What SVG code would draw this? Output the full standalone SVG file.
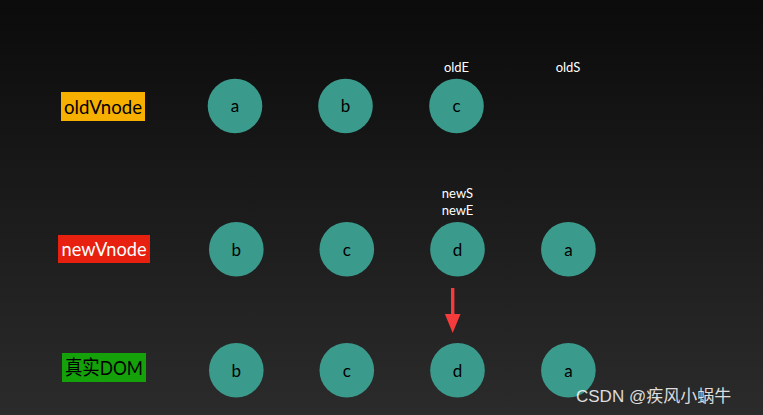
<svg xmlns="http://www.w3.org/2000/svg" width="763" height="415" viewBox="0 0 763 415">
<defs>
<linearGradient id="bg" x1="0" y1="0" x2="0" y2="1">
<stop offset="0" stop-color="#0b0b0b"/>
<stop offset="1" stop-color="#2b2b2b"/>
</linearGradient>
<style>
.n circle{fill:#3a9b8c}
.n text{font-family:Lato,"Open Sans",sans-serif;font-size:17px;fill:#000;text-anchor:middle}
.ptr{font-family:Lato,"Open Sans",sans-serif;font-size:13px;fill:#fff;text-anchor:middle}
.lab{font-family:Lato,"Noto Sans CJK SC",sans-serif;font-size:20px;text-anchor:middle}
</style>
</defs>
<rect width="763" height="415" fill="url(#bg)"/>

<g id="label-oldVnode"><rect x="61" y="92" width="84" height="29" fill="#f7b000"/><text class="lab" x="103" y="113.5" fill="#000" textLength="78" lengthAdjust="spacingAndGlyphs">oldVnode</text></g>
<g id="label-newVnode"><rect x="58" y="235" width="92" height="28" fill="#e8200f"/><text class="lab" x="104" y="256" fill="#fff" textLength="85" lengthAdjust="spacingAndGlyphs">newVnode</text></g>
<g id="label-dom"><rect x="62" y="353" width="84" height="29" fill="#14a10a"/><text class="lab" x="104" y="374.5" fill="#000" textLength="78" lengthAdjust="spacingAndGlyphs">真实DOM</text></g>

<g id="old-a" class="n"><circle cx="235" cy="106" r="27.3"/><text x="235" y="112">a</text></g>
<g id="old-b" class="n"><circle cx="345.5" cy="106" r="27.3"/><text x="345.5" y="112">b</text></g>
<g id="old-c" class="n"><circle cx="456.5" cy="106" r="27.3"/><text x="456.5" y="112">c</text></g>

<g id="new-b" class="n"><circle cx="236.3" cy="249.3" r="27.3"/><text x="236.3" y="255.5">b</text></g>
<g id="new-c" class="n"><circle cx="346.8" cy="249.3" r="27.3"/><text x="346.8" y="255.5">c</text></g>
<g id="new-d" class="n"><circle cx="457.5" cy="249.3" r="27.3"/><text x="457.5" y="255.5">d</text></g>
<g id="new-a" class="n"><circle cx="568.4" cy="249.3" r="27.3"/><text x="568.4" y="255.5">a</text></g>

<g id="dom-b" class="n"><circle cx="236.3" cy="370.3" r="27.3"/><text x="236.3" y="376.5">b</text></g>
<g id="dom-c" class="n"><circle cx="346.8" cy="370.3" r="27.3"/><text x="346.8" y="376.5">c</text></g>
<g id="dom-d" class="n"><circle cx="457.5" cy="370.3" r="27.3"/><text x="457.5" y="376.5">d</text></g>
<g id="dom-a" class="n"><circle cx="568.4" cy="370.3" r="27.3"/><text x="568.4" y="376.5">a</text></g>

<g id="pointers">
<text class="ptr" x="456.5" y="72">oldE</text>
<text class="ptr" x="568" y="72">oldS</text>
<text class="ptr" x="457.5" y="198">newS</text>
<text class="ptr" x="457.5" y="215">newE</text>
</g>

<g id="connectors">
<path d="M451 288 L454.4 288 L454.4 314 L460.5 314 L452.7 333 L444.9 314 L451 314 Z" fill="#f53b3b"/>
</g>

<text x="576" y="402" font-family="'Liberation Sans','Noto Sans CJK SC',sans-serif" font-size="17" fill="#ffffff" fill-opacity="0.85">CSDN @疾风小蜗牛</text>
</svg>
